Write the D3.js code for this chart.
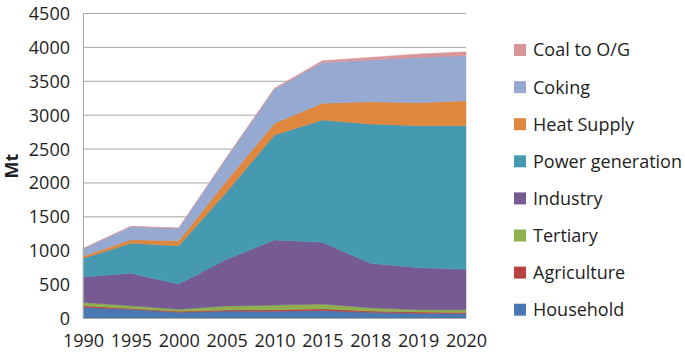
<!DOCTYPE html>
<html>
<head>
<meta charset="utf-8">
<script src="https://cdn.jsdelivr.net/npm/d3@7"></script>
<style>
  body { margin: 0; background: #fff; }
  text { font-family: "Open Sans", sans-serif; fill: #1e1e1e; }
</style>
</head>
<body>
<svg id="chart" width="685" height="355"></svg>
<script>
var years = ["1990", "1995", "2000", "2005", "2010", "2015", "2018", "2019", "2020"];
var yTicks = [0, 500, 1000, 1500, 2000, 2500, 3000, 3500, 4000, 4500];

// sectors, bottom to top of the stack
var sectors = ["Household", "Agriculture", "Tertiary", "Industry", "Power generation", "Heat Supply", "Coking", "Coal to O/G"];
var household = [160, 130, 85, 103, 100, 110, 84, 69, 65];
var agriculture = [20, 12, 13, 15, 20, 25, 19, 19, 17];
var tertiary = [50, 38, 32, 59, 70, 71, 47, 34, 40];
var industry = [375, 479, 371, 689, 960, 911, 657, 620, 596];
var power = [275, 443, 564, 994, 1550, 1803, 2055, 2095, 2119];
var heat = [32, 53, 73, 165, 172, 247, 328, 339, 369];
var coking = [108, 192, 185, 338, 508, 603, 615, 669, 663];
var coalToOG = [5, 5, 5, 7, 10, 25, 40, 49, 59];

var colors = ["#4a78b0", "#b9413f", "#8fb04f", "#765b93", "#459ab1", "#de873d", "#95a9d1", "#d8959a"];

var series = [household, agriculture, tertiary, industry, power, heat, coking, coalToOG];
var rows = years.map(function (y, i) {
  var r = { year: y };
  sectors.forEach(function (s, k) { r[s] = series[k][i]; });
  return r;
});

var dims = { top: 13, bottom: 37, left: 83, right: 219 };
var width = 685 - dims.left - dims.right;
var height = 355 - dims.top - dims.bottom;

var svg = d3.select("#chart");
var g = svg.append("g").attr("transform", "translate(" + dims.left + "," + dims.top + ")");

var x = d3.scalePoint().domain(years).range([0, width]);
var y = d3.scaleLinear().domain([0, 4500]).range([height, 0]);

// gridlines
g.selectAll(".grid")
  .data(yTicks.slice(1))
  .enter()
  .append("line")
  .attr("x1", 0)
  .attr("x2", width)
  .attr("y1", function (d) { return y(d) + 0.5; })
  .attr("y2", function (d) { return y(d) + 0.5; })
  .attr("stroke", "#a6a6a6")
  .attr("stroke-width", 1);

var stacked = d3.stack().keys(sectors)(rows);

var area = d3.area()
  .x(function (d) { return x(d.data.year); })
  .y0(function (d) { return y(d[0]); })
  .y1(function (d) { return y(d[1]); });

g.selectAll(".layer")
  .data(stacked)
  .enter()
  .append("path")
  .attr("d", area)
  .attr("fill", function (d, i) { return colors[i]; })
  .attr("stroke", function (d, i) { return colors[i]; })
  .attr("stroke-width", 0.5);

// axes
var yAxis = d3.axisLeft(y).tickValues(yTicks).tickFormat(d3.format("d")).tickSize(0).tickPadding(13);
var yg = g.append("g").call(yAxis);
yg.select(".domain").attr("stroke", "#a6a6a6").attr("d", "M0.5,0V" + height);
yg.selectAll("text").style("font-size", "18px").attr("dy", "0.36em");

var xAxis = d3.axisBottom(x).tickSize(0).tickPadding(16);
var xg = g.append("g").attr("transform", "translate(0," + height + ")").call(xAxis);
xg.select(".domain").attr("stroke", "#a6a6a6").attr("d", "M0,0.5H" + width);
xg.selectAll("text").style("font-size", "18px");

svg.append("text")
  .text("Mt")
  .attr("transform", "translate(18,166) rotate(-90)")
  .attr("text-anchor", "middle")
  .style("font-size", "18px")
  .style("font-weight", "bold");

// legend, top to bottom
var legend = svg.append("g").attr("transform", "translate(514,50)");
var order = sectors.slice().reverse();
var items = legend.selectAll(".item")
  .data(order)
  .enter()
  .append("g")
  .attr("transform", function (d, i) { return "translate(0," + i * 37.1 + ")"; });
items.append("rect")
  .attr("x", 0).attr("y", -6)
  .attr("width", 12).attr("height", 12)
  .attr("fill", function (d) { return colors[sectors.indexOf(d)]; });
items.append("text")
  .text(function (d) { return d; })
  .attr("x", 19)
  .attr("dy", "0.36em")
  .style("font-size", "18px");
</script>
</body>
</html>
